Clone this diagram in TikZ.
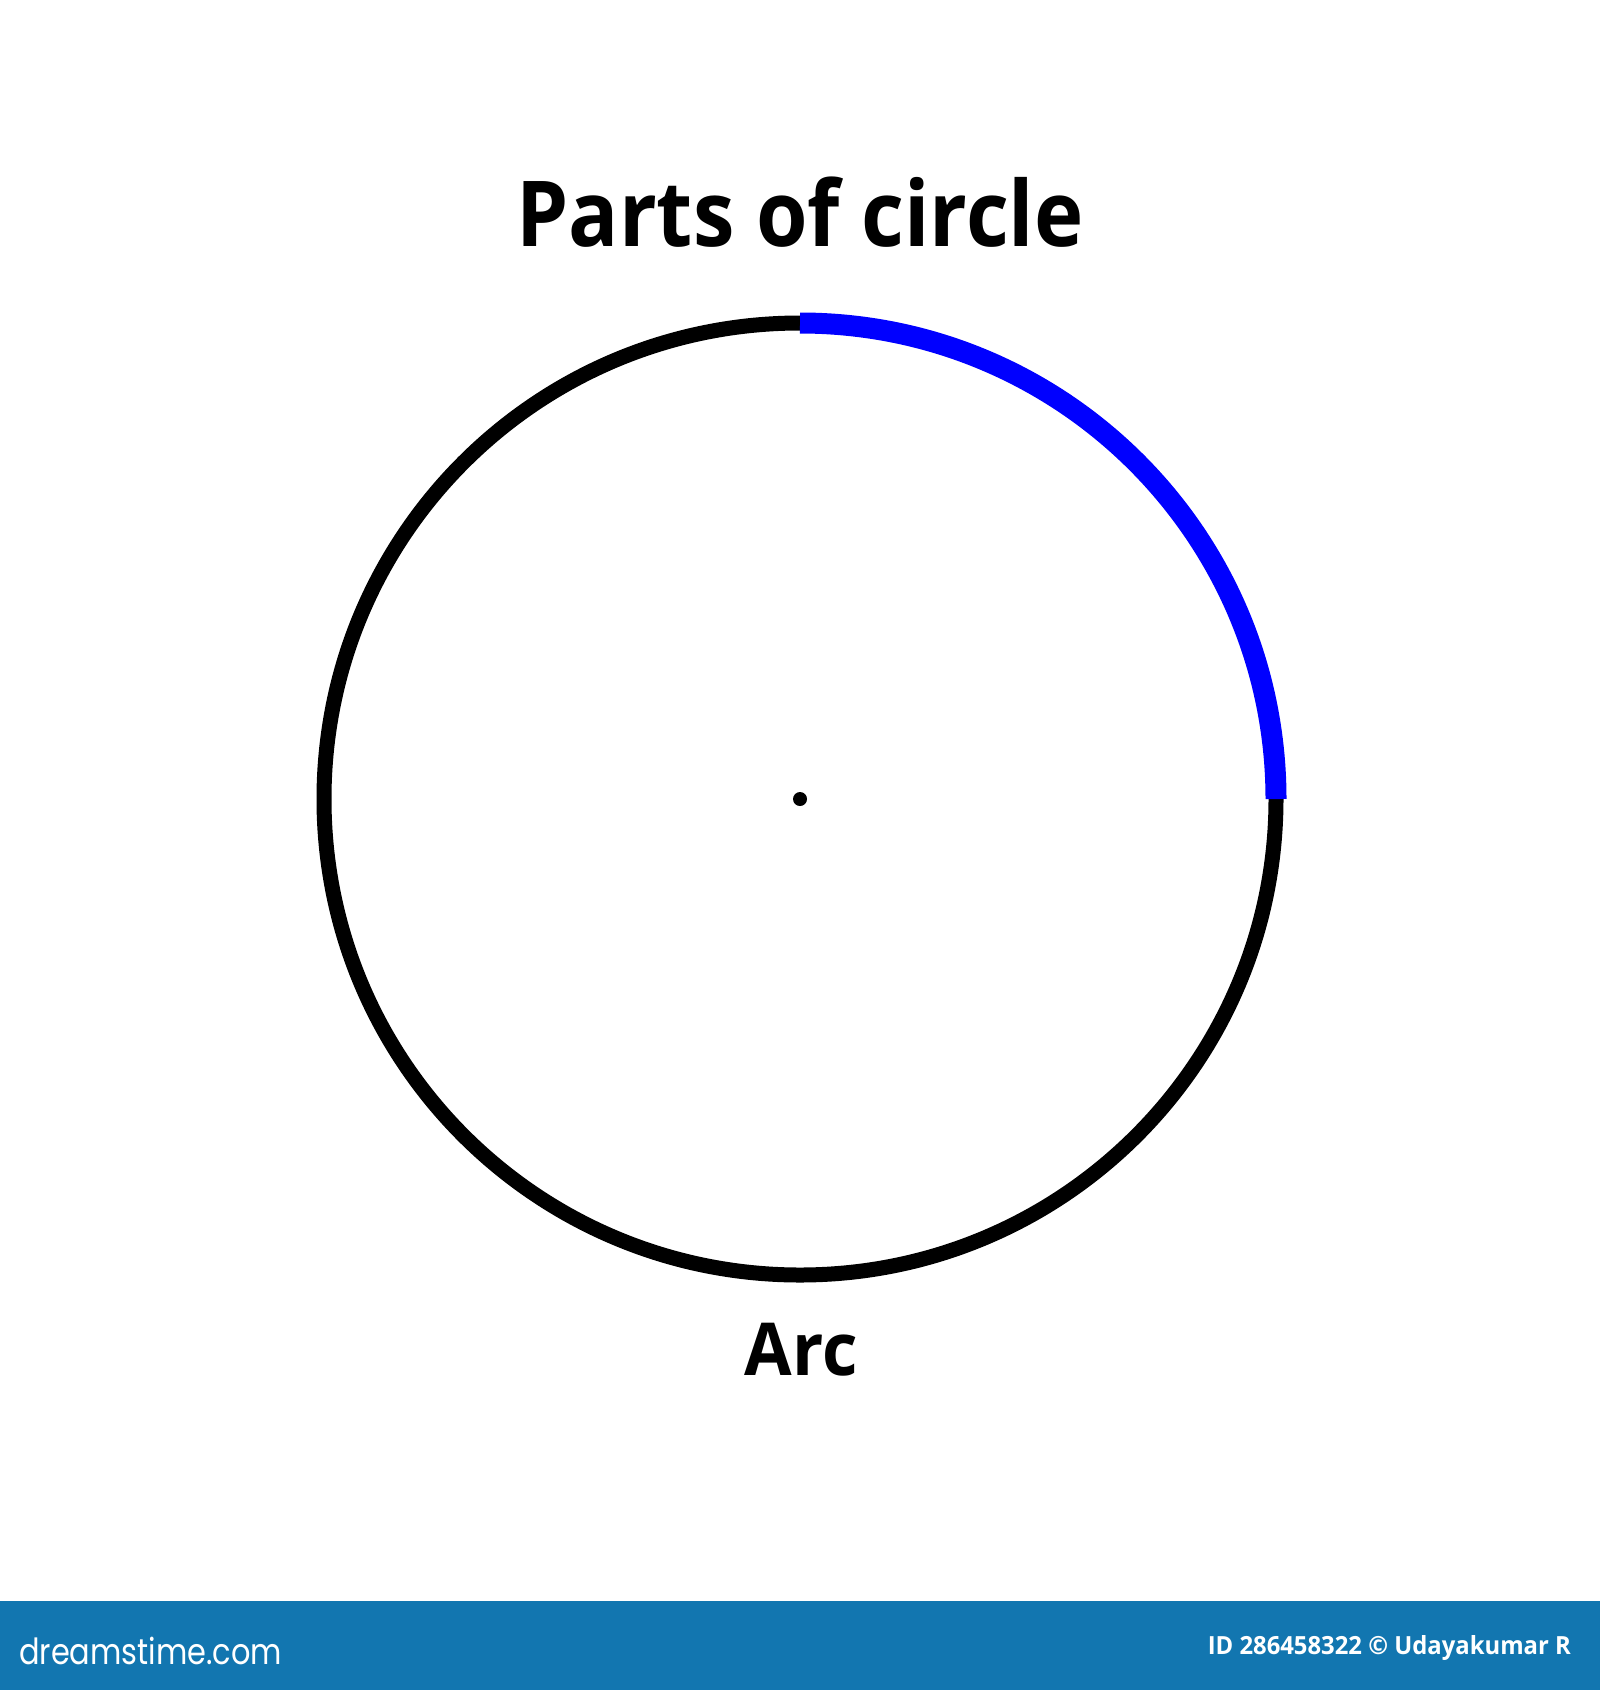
\documentclass[tikz,border=0pt]{standalone}
\usepackage{fontspec}
\usepackage{graphicx}
\usetikzlibrary{calc}
\setmainfont{Open Sans}
\newfontfamily\bannerfont{Open Sans}
\newfontfamily\logofont{Poppins}
\definecolor{bannerblue}{HTML}{1276B0}
\definecolor{arcblue}{HTML}{0000FF}
\tikzset{
  lbl/.style={inner sep=0pt, outer sep=0pt, anchor=base, text=black},
  rim/.style={line width=15pt, draw=black},
  arcpart/.style={line width=21pt, draw=arcblue, line cap=butt},
}
\begin{document}
\begin{tikzpicture}[x=1pt,y=-1pt]
\useasboundingbox (0,0) rectangle (1600,1690);
\fill[white] (0,0) rectangle (1600,1690);
% banner
\fill[bannerblue] (0,1601) rectangle (1600,1690);
\node[inner sep=0pt, anchor=base west, text=white] (logo) at (19,1664)
  {\resizebox{263pt}{\height}{\logofont\fontsize{36}{36}\selectfont dreamstime.com}};
\node[inner sep=0pt, anchor=base east, text=white] (credit) at (1571,1654)
  {\resizebox{363pt}{\height}{\bannerfont\bfseries\fontsize{25}{25}\selectfont ID 286458322 \char"00A9\ Udayakumar R}};
% title
\node[lbl] (title) at (800,246)
  {\resizebox{567pt}{\height}{\bfseries\fontsize{91}{91}\selectfont Parts of circle}};
% circle
\coordinate (O) at (800,799);
\coordinate (top) at (800,323);
\draw[rim] (O) circle[radius=476];
\draw[arcpart] (top) arc[start angle=90, end angle=0, x radius=476, y radius=-476];
\node[circle, fill=black, inner sep=0pt, minimum size=14pt] (center) at (O) {};
% label
\node[lbl] (arclabel) at (801,1375)
  {\resizebox{113pt}{\height}{\bfseries\fontsize{73}{73}\selectfont Arc}};
\end{tikzpicture}
\end{document}
